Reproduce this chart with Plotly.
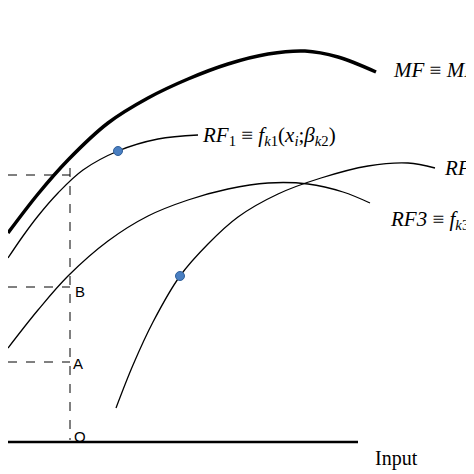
import plotly.graph_objects as go

# curves traced in picture coordinates (x right, y down)
mf_x = [0, 30, 60, 100, 140, 180, 220, 260, 297, 330, 368]
mf_y = [225, 186, 152, 115, 90, 71, 56, 46, 43, 49, 64]
rf1_x = [0, 15, 30, 50, 75, 110, 150, 190]
rf1_y = [250, 228, 208, 185, 162, 143, 131, 127]
rf3_x = [0, 30, 60, 100, 140, 180, 220, 260, 300, 335, 362]
rf3_y = [340, 302, 268, 233, 208, 192, 181, 175, 176, 184, 195]
rf2_x = [108, 125, 145, 172, 200, 230, 270, 313, 360, 400, 427]
rf2_y = [400, 357, 314, 268, 236, 209, 186, 170, 158, 155, 160]
dots_x = [110, 172]
dots_y = [143, 268]
levels_y = [167, 279, 354]

fig = go.Figure()
for lv in levels_y:
    fig.add_trace(go.Scatter(x=[0, 62], y=[lv, lv], mode="lines",
                             line=dict(color="black", width=1, dash="dash")))
fig.add_trace(go.Scatter(x=[62, 62], y=[160, 432], mode="lines",
                         line=dict(color="black", width=1, dash="dash")))
fig.add_trace(go.Scatter(x=mf_x, y=mf_y, mode="lines", line=dict(color="black", width=3.5, shape="spline")))
for xs, ys in [(rf1_x, rf1_y), (rf3_x, rf3_y), (rf2_x, rf2_y)]:
    fig.add_trace(go.Scatter(x=xs, y=ys, mode="lines", line=dict(color="black", width=1.3, shape="spline")))
fig.add_trace(go.Scatter(x=[0, 350], y=[434, 434], mode="lines", line=dict(color="black", width=2.5)))
fig.add_trace(go.Scatter(x=dots_x, y=dots_y, mode="markers",
                         marker=dict(color="#4a7fc1", size=9, symbol="circle",
                                     line=dict(color="#2f5f9a", width=1))))

serif = dict(family="Liberation Serif", size=21, color="black")
sans = dict(family="Liberation Sans", size=15, color="black")
ann = [
    dict(x=383, y=62, text="<i>MF</i> ≡ <i>MF</i>", font=serif),
    dict(x=192, y=128, text="<i>RF</i><sub>1</sub> ≡ <i>f</i><sub><i>k</i>1</sub>(<i>x</i><sub><i>i</i></sub>;<i>β</i><sub><i>k</i>2</sub>)", font=serif),
    dict(x=434, y=160, text="<i>RF</i>", font=serif),
    dict(x=380, y=212, text="<i>RF3</i> ≡ <i>f</i><sub><i>k</i>3</sub>", font=serif),
    dict(x=65, y=283, text="B", font=sans),
    dict(x=63, y=355, text="A", font=sans),
    dict(x=64, y=428, text="O", font=sans),
    dict(x=365, y=450, text="Input", font=dict(family="Liberation Serif", size=20, color="black")),
]
for a in ann:
    fig.add_annotation(x=a["x"], y=a["y"], text=a["text"], font=a["font"],
                       showarrow=False, xanchor="left", yanchor="middle")

fig.update_layout(width=474, height=474, margin=dict(l=0, r=0, t=0, b=0),
                  plot_bgcolor="white", paper_bgcolor="white", showlegend=False)
fig.update_xaxes(range=[0, 474], visible=False)
fig.update_yaxes(range=[474, 0], visible=False)
fig.write_html("out.html")
